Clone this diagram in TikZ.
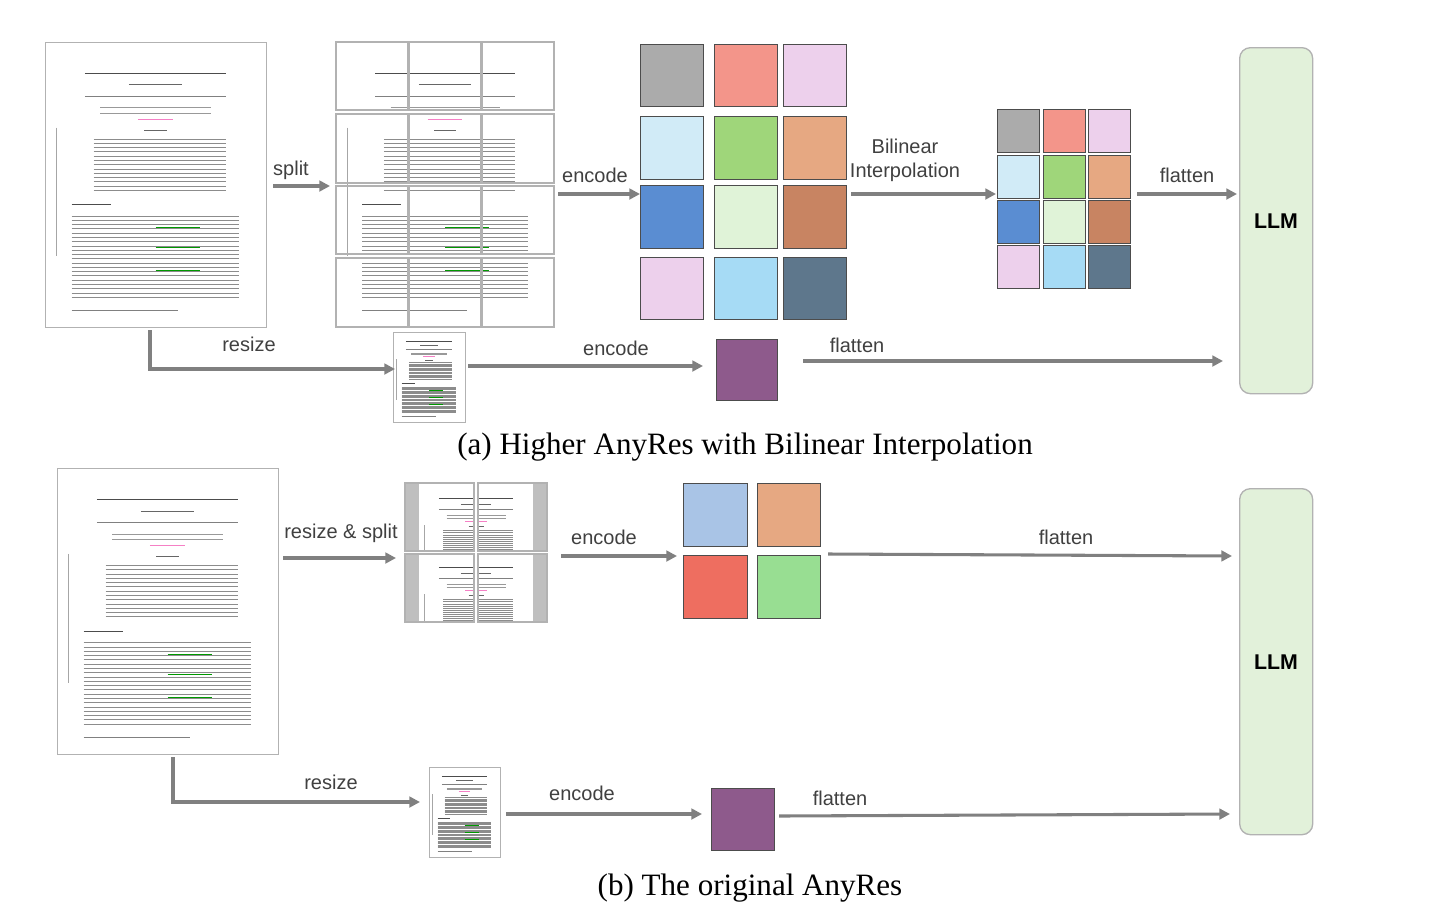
\documentclass[tikz,border=0pt]{standalone}
\usepackage{fontspec}
\setmainfont{Liberation Serif}
\newfontfamily\lsans{Liberation Sans}
\usetikzlibrary{arrows.meta}
\definecolor{arr}{HTML}{808080}
\definecolor{cgray}{HTML}{ABABAB}\definecolor{csal}{HTML}{F3958A}\definecolor{cpink}{HTML}{EDD0EC}
\definecolor{clb}{HTML}{D1EBF7}\definecolor{cgr}{HTML}{9FD67A}\definecolor{ctan}{HTML}{E6A882}
\definecolor{cblue}{HTML}{5A8DD2}\definecolor{clg}{HTML}{E0F3D8}\definecolor{cbr}{HTML}{C88462}
\definecolor{csky}{HTML}{A6DBF5}\definecolor{cslate}{HTML}{5E778C}\definecolor{cpur}{HTML}{8E5A8C}
\definecolor{cb2}{HTML}{A9C4E6}\definecolor{cred}{HTML}{EE6E60}\definecolor{cg2}{HTML}{98DE92}
\definecolor{llmfill}{HTML}{E2F1DA}
\tikzset{
 flow/.style={draw=arr,line width=2.3pt,-{Triangle[length=8pt,width=8pt]}},
 lab/.style={font=\lsans\fontsize{15}{17}\selectfont,text=black!75,inner sep=0},
 sq/.style={draw=black!70,line width=0.6pt},
 llm/.style={draw=black!30,line width=1pt,fill=llmfill,rounded corners=8pt},
 captxt/.style={font=\fontsize{23.3}{26}\selectfont,inner sep=0}
}
\newcommand\docpg[4]{%
\begin{scope}[shift={(#1,#2)},x={(#3*0.75pt,0)},y={(0,-#4*0.75pt)}]
 \fill[white] (0,0) rectangle (1,1);
 \draw[black!70,line width=0.7pt] (.18,.11)--(.82,.11);
 \draw[black!50,line width=0.4pt] (.18,.19)--(.82,.19);
 \draw[black!60,line width=0.6pt] (.38,.15)--(.62,.15);
 \foreach \yy in {.23,.25}{\draw[black!40,line width=0.3pt](.25,\yy)--(.75,\yy);}
 \draw[magenta!50,line width=0.3pt](.42,.27)--(.58,.27);
 \draw[black!60,line width=0.4pt](.45,.31)--(.55,.31);
 \foreach \yy in {.34,.355,...,.52}{\draw[black!45,line width=0.35pt](.22,\yy)--(.82,\yy);}
 \draw[black!70,line width=0.4pt](.12,.57)--(.3,.57);
 \foreach \yy in {.61,.625,...,.9}{\draw[black!45,line width=0.35pt](.12,\yy)--(.88,\yy);}
 \foreach \yy in {.65,.72,.8}{\draw[green!60!black,line width=0.35pt](.5,\yy)--(.7,\yy);}
 \draw[black!35,line width=0.5pt](.05,.3)--(.05,.75);
 \draw[black!50,line width=0.35pt](.12,.94)--(.6,.94);
\end{scope}}
\begin{document}
\begin{tikzpicture}[x=0.75pt,y=-0.75pt]
\useasboundingbox (0,0) rectangle (1430,918);
% ---------- (a)
\docpg{45}{42}{221}{285}
\node[draw=black!30,line width=0.8pt,minimum width=221*0.75pt,minimum height=285*0.75pt,anchor=north west,inner sep=0] (pa) at (45,42) {};
\docpg{336}{42}{218}{285}
\foreach \cx/\cw [count=\i] in {336/72,409/72,482/72}{
 \foreach \ry/\rh [count=\j] in {42/68,114/69,186/68,258/69}{
  \draw[white,line width=2pt](\cx,\ry) rectangle ++(\cw,\rh);
  \draw[black!30,line width=0.8pt](\cx,\ry) rectangle ++(\cw,\rh);}}
\node[minimum width=218*0.75pt,minimum height=285*0.75pt,anchor=north west,inner sep=0] (sp) at (336,42) {};
\coordinate (s1) at (273,186); \coordinate (s2) at (330,186);
\draw[flow] (s1)--(s2);
\node[lab] at (291,170) {split};
\docpg{393}{332}{72}{90}
\node[draw=black!30,line width=0.8pt,minimum width=72*0.75pt,minimum height=90*0.75pt,anchor=north west,inner sep=0] (sm) at (393,332) {};
\coordinate (r1) at (150,330);
\draw[flow] (r1)|-(395,369);
\node[lab] at (249,344) {resize};
% big grid
\foreach \cx/\cc [count=\i] in {640/cgray,714/csal,783/cpink}{\node[sq,fill=\cc,minimum width=63*0.75pt,minimum height=62*0.75pt,anchor=north west,inner sep=0] (g1\i) at (\cx,44) {};}
\foreach \cx/\cc [count=\i] in {640/clb,714/cgr,783/ctan}{\node[sq,fill=\cc,minimum width=63*0.75pt,minimum height=63*0.75pt,anchor=north west,inner sep=0] (g2\i) at (\cx,116) {};}
\foreach \cx/\cc [count=\i] in {640/cblue,714/clg,783/cbr}{\node[sq,fill=\cc,minimum width=63*0.75pt,minimum height=63*0.75pt,anchor=north west,inner sep=0] (g3\i) at (\cx,185) {};}
\foreach \cx/\cc [count=\i] in {640/cpink,714/csky,783/cslate}{\node[sq,fill=\cc,minimum width=63*0.75pt,minimum height=62*0.75pt,anchor=north west,inner sep=0] (g4\i) at (\cx,257) {};}
\draw[flow] (558,194)--(640,194);
\node[lab] at (595,175) {encode};
% small grid
\foreach \ry/\ca/\cb/\cc [count=\j] in {109/cgray/csal/cpink,155/clb/cgr/ctan,200/cblue/clg/cbr,245/cpink/csky/cslate}{
 \node[sq,fill=\ca,minimum width=42*0.75pt,minimum height=43*0.75pt,anchor=north west,inner sep=0] (h\j a) at (997,\ry) {};
 \node[sq,fill=\cb,minimum width=42*0.75pt,minimum height=43*0.75pt,anchor=north west,inner sep=0] (h\j b) at (1043,\ry) {};
 \node[sq,fill=\cc,minimum width=42*0.75pt,minimum height=43*0.75pt,anchor=north west,inner sep=0] (h\j c) at (1088,\ry) {};}
\draw[flow] (851,194)--(996,194);
\node[lab,align=center] (bil) at (905,160) {Bilinear\\[1pt]Interpolation};
\node[llm,minimum width=73*0.75pt,minimum height=346*0.75pt,anchor=north west,inner sep=0] (llm1) at (1239,47) {};
\node[font=\lsans\bfseries\fontsize{16}{18}\selectfont] at (1276,221) {LLM};
\draw[flow] (1137,194)--(1237,194);
\node[lab] at (1187,175) {flatten};
\draw[flow] (468,366)--(703,366);
\node[lab] at (616,348) {encode};
\node[sq,fill=cpur,minimum width=61*0.75pt,minimum height=61*0.75pt,anchor=north west,inner sep=0] (pu1) at (716,339) {};
\draw[flow] (803,361)--(1223,361);
\node[lab] at (857,345) {flatten};
\node[captxt] at (745,447) {(a) Higher AnyRes with Bilinear Interpolation};
% ---------- (b)
\docpg{57}{468}{221}{286}
\node[draw=black!30,line width=0.8pt,minimum width=221*0.75pt,minimum height=286*0.75pt,anchor=north west,inner sep=0] (pb) at (57,468) {};
\foreach \cx/\ry/\sd [count=\i] in {405/483/0,478/483/1,405/554/0,478/554/1}{
 \begin{scope}
 \clip (\cx,\ry) rectangle ++(69,68);
 \fill[black!25] (\cx,\ry) rectangle ++(69,68);
 \ifnum\sd=0 \docpg{\cx+14}{\ry-(\i-1)*17}{110}{140}\else\docpg{\cx-55}{\ry-(\i-2)*17}{110}{140}\fi
 \end{scope}
 \draw[black!30,line width=0.8pt](\cx,\ry) rectangle ++(69,68);}
\draw[flow] (283,558)--(396,558);
\node[lab] at (341,533) {resize \& split};
\draw[flow] (561,556)--(677,556);
\node[lab] at (604,537) {encode};
\node[sq,fill=cb2,minimum width=64*0.75pt,minimum height=63*0.75pt,anchor=north west,inner sep=0] (k1) at (683,483) {};
\node[sq,fill=ctan,minimum width=63*0.75pt,minimum height=63*0.75pt,anchor=north west,inner sep=0] (k2) at (757,483) {};
\node[sq,fill=cred,minimum width=64*0.75pt,minimum height=63*0.75pt,anchor=north west,inner sep=0] (k3) at (683,555) {};
\node[sq,fill=cg2,minimum width=63*0.75pt,minimum height=63*0.75pt,anchor=north west,inner sep=0] (k4) at (757,555) {};
\draw[flow] (828,554)--(1232,556);
\node[lab] at (1066,537) {flatten};
\node[llm,minimum width=73*0.75pt,minimum height=346*0.75pt,anchor=north west,inner sep=0] (llm2) at (1239,488) {};
\node[font=\lsans\bfseries\fontsize{16}{18}\selectfont] at (1276,662) {LLM};
\docpg{429}{767}{71}{90}
\node[draw=black!30,line width=0.8pt,minimum width=71*0.75pt,minimum height=90*0.75pt,anchor=north west,inner sep=0] (sm2) at (429,767) {};
\draw[flow] (173,757)|-(420,802);
\node[lab] at (331,782) {resize};
\draw[flow] (506,814)--(702,814);
\node[lab] at (582,793) {encode};
\node[sq,fill=cpur,minimum width=63*0.75pt,minimum height=62*0.75pt,anchor=north west,inner sep=0] (pu2) at (711,788) {};
\draw[flow] (779,816)--(1230,814);
\node[lab] at (840,798) {flatten};
\node[captxt] at (750,888) {(b) The original AnyRes};
\end{tikzpicture}
\end{document}
